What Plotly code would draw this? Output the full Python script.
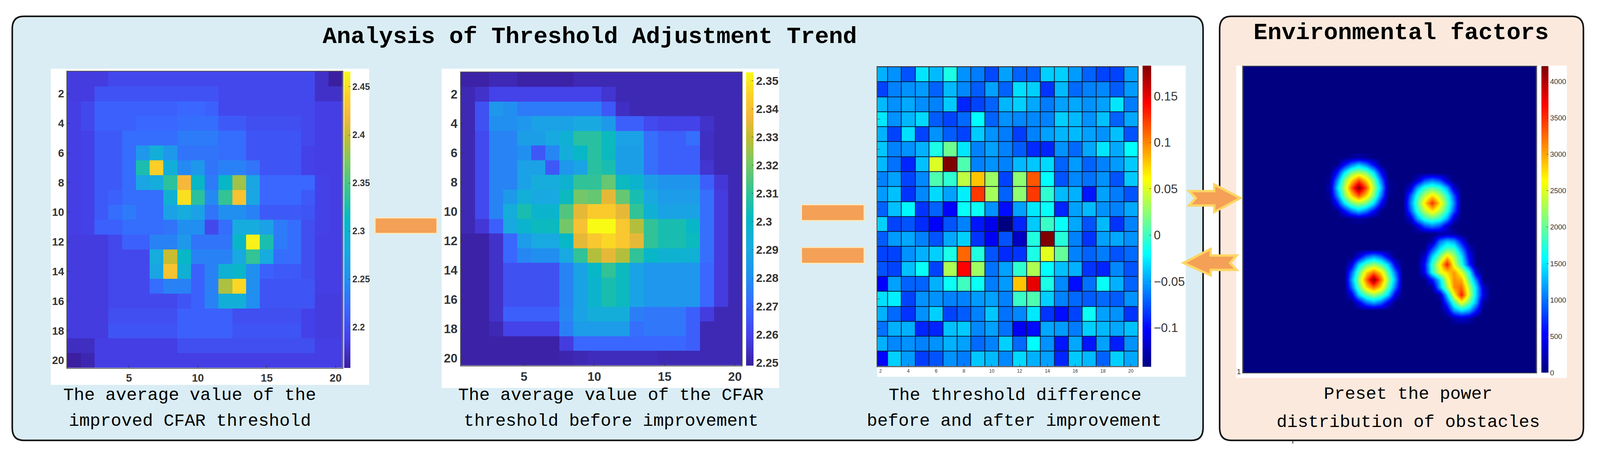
import plotly.graph_objects as go

W = 4438
H = 1179
TEXT_SCALE = 0.923

# improved CFAR threshold
improved = [
    [2.185,2.185,2.185,2.195,2.195,2.195,2.195,2.195,2.195,2.195,2.195,2.195,2.195,2.195,2.195,2.195,2.195,2.195,2.175,2.158],
    [2.185,2.185,2.203,2.203,2.203,2.203,2.203,2.203,2.203,2.203,2.203,2.195,2.195,2.195,2.195,2.195,2.195,2.195,2.175,2.175],
    [2.187,2.195,2.215,2.215,2.215,2.215,2.215,2.215,2.22,2.22,2.215,2.195,2.195,2.195,2.195,2.195,2.195,2.195,2.187,2.187],
    [2.187,2.195,2.215,2.215,2.215,2.22,2.22,2.22,2.225,2.225,2.225,2.21,2.21,2.2,2.2,2.2,2.2,2.195,2.187,2.187],
    [2.187,2.19,2.21,2.21,2.225,2.225,2.225,2.225,2.235,2.235,2.235,2.225,2.225,2.205,2.205,2.205,2.205,2.195,2.187,2.187],
    [2.187,2.19,2.21,2.21,2.225,2.26,2.29,2.26,2.23,2.23,2.23,2.225,2.225,2.205,2.205,2.205,2.205,2.19,2.187,2.187],
    [2.187,2.19,2.21,2.21,2.225,2.325,2.44,2.29,2.245,2.26,2.23,2.24,2.24,2.23,2.205,2.205,2.205,2.19,2.187,2.187],
    [2.187,2.19,2.21,2.21,2.225,2.275,2.285,2.335,2.42,2.31,2.235,2.31,2.385,2.275,2.22,2.22,2.22,2.22,2.19,2.187],
    [2.187,2.19,2.21,2.215,2.225,2.225,2.225,2.295,2.45,2.335,2.245,2.34,2.43,2.275,2.22,2.22,2.22,2.21,2.19,2.187],
    [2.187,2.19,2.21,2.225,2.235,2.225,2.225,2.27,2.285,2.27,2.23,2.25,2.25,2.24,2.21,2.21,2.21,2.205,2.19,2.187],
    [2.187,2.19,2.215,2.215,2.225,2.225,2.225,2.23,2.25,2.25,2.195,2.225,2.285,2.285,2.27,2.235,2.225,2.2,2.19,2.187],
    [2.185,2.185,2.185,2.195,2.215,2.215,2.24,2.24,2.26,2.23,2.23,2.23,2.31,2.46,2.325,2.235,2.225,2.2,2.187,2.187],
    [2.185,2.185,2.185,2.195,2.195,2.195,2.285,2.4,2.31,2.24,2.24,2.24,2.28,2.34,2.285,2.225,2.225,2.2,2.187,2.187],
    [2.185,2.185,2.185,2.195,2.195,2.195,2.275,2.43,2.295,2.215,2.24,2.295,2.305,2.25,2.215,2.21,2.21,2.2,2.187,2.187],
    [2.185,2.185,2.185,2.195,2.195,2.195,2.225,2.24,2.24,2.215,2.24,2.39,2.445,2.25,2.205,2.205,2.205,2.205,2.187,2.187],
    [2.185,2.185,2.185,2.195,2.195,2.195,2.195,2.195,2.205,2.215,2.24,2.29,2.29,2.25,2.205,2.205,2.205,2.205,2.185,2.185],
    [2.185,2.185,2.185,2.2,2.2,2.2,2.2,2.2,2.215,2.215,2.215,2.215,2.2,2.2,2.2,2.2,2.2,2.19,2.185,2.185],
    [2.185,2.185,2.185,2.205,2.205,2.205,2.205,2.205,2.215,2.215,2.215,2.215,2.205,2.205,2.205,2.205,2.205,2.19,2.185,2.185],
    [2.172,2.172,2.187,2.187,2.187,2.187,2.187,2.187,2.2,2.2,2.2,2.2,2.2,2.2,2.2,2.2,2.2,2.2,2.187,2.187],
    [2.158,2.165,2.187,2.187,2.187,2.187,2.187,2.187,2.187,2.187,2.187,2.187,2.187,2.187,2.187,2.187,2.187,2.187,2.187,2.187],
]

# CFAR threshold before the improvement
before = [
    [2.25,2.25,2.252,2.252,2.25,2.25,2.25,2.25,2.252,2.252,2.252,2.252,2.252,2.252,2.252,2.252,2.252,2.252,2.252,2.252],
    [2.252,2.255,2.26,2.26,2.26,2.26,2.26,2.26,2.26,2.26,2.256,2.252,2.252,2.252,2.252,2.252,2.252,2.252,2.252,2.252],
    [2.252,2.264,2.283,2.28,2.275,2.275,2.275,2.275,2.275,2.275,2.266,2.254,2.252,2.252,2.252,2.252,2.252,2.252,2.252,2.252],
    [2.252,2.264,2.28,2.28,2.283,2.287,2.287,2.287,2.29,2.29,2.284,2.268,2.268,2.262,2.26,2.26,2.26,2.255,2.252,2.252],
    [2.252,2.262,2.277,2.277,2.286,2.286,2.29,2.295,2.308,2.308,2.302,2.287,2.287,2.272,2.268,2.268,2.272,2.254,2.252,2.252],
    [2.252,2.262,2.277,2.277,2.28,2.266,2.278,2.293,2.3,2.308,2.302,2.286,2.286,2.272,2.268,2.268,2.268,2.254,2.252,2.252],
    [2.252,2.262,2.277,2.277,2.287,2.287,2.266,2.283,2.288,2.308,2.305,2.286,2.286,2.272,2.268,2.268,2.268,2.256,2.252,2.252],
    [2.252,2.262,2.277,2.277,2.287,2.292,2.292,2.296,2.31,2.31,2.318,2.302,2.298,2.286,2.282,2.282,2.282,2.268,2.257,2.252],
    [2.252,2.262,2.277,2.284,2.294,2.29,2.29,2.302,2.32,2.318,2.335,2.318,2.305,2.29,2.285,2.285,2.285,2.272,2.258,2.252],
    [2.252,2.262,2.277,2.293,2.305,2.298,2.298,2.315,2.335,2.343,2.343,2.335,2.31,2.295,2.288,2.288,2.288,2.272,2.258,2.252],
    [2.252,2.257,2.268,2.29,2.298,2.302,2.302,2.32,2.34,2.353,2.353,2.342,2.328,2.31,2.305,2.305,2.3,2.272,2.258,2.252],
    [2.25,2.25,2.255,2.27,2.285,2.29,2.29,2.3,2.335,2.342,2.346,2.342,2.335,2.31,2.305,2.305,2.302,2.272,2.258,2.252],
    [2.25,2.25,2.255,2.27,2.278,2.28,2.28,2.29,2.31,2.328,2.335,2.328,2.31,2.3,2.296,2.296,2.295,2.272,2.258,2.252],
    [2.25,2.25,2.255,2.264,2.264,2.264,2.264,2.277,2.288,2.3,2.31,2.302,2.288,2.283,2.283,2.283,2.283,2.27,2.258,2.252],
    [2.25,2.25,2.255,2.264,2.264,2.264,2.264,2.277,2.288,2.298,2.305,2.302,2.288,2.283,2.283,2.283,2.283,2.27,2.258,2.252],
    [2.25,2.25,2.255,2.264,2.264,2.264,2.264,2.277,2.288,2.298,2.305,2.302,2.288,2.283,2.283,2.283,2.283,2.27,2.258,2.252],
    [2.25,2.25,2.255,2.268,2.268,2.268,2.268,2.278,2.288,2.293,2.293,2.293,2.276,2.274,2.274,2.274,2.268,2.258,2.252,2.252],
    [2.25,2.25,2.252,2.26,2.26,2.26,2.26,2.276,2.285,2.285,2.285,2.285,2.272,2.274,2.274,2.274,2.268,2.252,2.252,2.252],
    [2.25,2.25,2.25,2.25,2.25,2.25,2.25,2.258,2.27,2.27,2.27,2.27,2.27,2.27,2.27,2.27,2.268,2.252,2.252,2.252],
    [2.25,2.25,2.25,2.25,2.25,2.25,2.25,2.251,2.252,2.253,2.253,2.253,2.253,2.253,2.252,2.252,2.252,2.252,2.252,2.252],
]

# threshold difference, 19 columns by 20 rows
difference = [
    [-.045,-.055,-.075,-.028,-.042,-.012,-.055,-.062,-.078,-.05,-.07,-.07,-.035,-.035,-.052,-.07,-.08,-.08,-.05],
    [-.08,-.06,-.055,-.052,-.07,-.042,-.058,-.072,-.05,-.07,-.03,-.035,-.085,-.042,-.068,-.06,-.058,-.072,-.052],
    [-.042,-.055,-.048,-.056,-.06,-.037,-.09,-.08,-.07,-.043,-.035,-.048,-.062,-.05,-.048,-.055,-.05,-.028,-.062],
    [-.027,-.055,-.043,-.032,-.072,-.08,-.068,-.02,-.07,-.055,-.058,-.058,-.06,-.035,-.042,-.055,-.04,-.07,-.048],
    [-.045,-.08,-.03,-.08,-.055,-.072,-.08,-.037,-.055,-.062,-.082,-.06,-.05,-.043,-.042,-.05,-.055,-.04,-.075],
    [-.038,-.06,-.055,-.045,-.012,.015,-.028,-.06,-.05,-.06,-.072,-.088,-.09,-.055,-.068,-.048,-.028,-.047,-.02],
    [-.042,-.065,-.09,-.04,.05,.183,.005,-.06,-.055,-.06,-.042,-.038,-.032,-.07,-.052,-.07,-.06,-.052,-.037],
    [-.06,-.05,-.08,-.058,.005,-.005,.04,.08,.03,-.08,.025,.115,-.02,-.075,-.058,-.065,-.055,-.075,-.037],
    [-.052,-.04,-.085,-.058,-.032,-.05,-.025,.125,.032,-.07,.025,.125,-.005,-.042,-.045,-.095,-.05,-.062,-.075],
    [-.07,-.04,-.022,-.085,-.07,-.1,-.018,-.017,-.055,-.098,-.05,-.027,-.018,-.09,-.05,-.042,-.055,-.06,-.048],
    [-.035,-.08,-.075,-.088,-.102,-.075,-.06,-.095,-.108,-.142,-.09,-.037,-.002,-.018,-.048,-.075,-.042,-.085,-.06],
    [-.072,-.052,-.048,-.06,-.075,-.048,-.035,-.085,-.105,-.075,-.12,-.01,.183,-.008,-.06,-.085,-.05,-.048,-.055],
    [-.08,-.08,-.055,-.045,-.035,-.012,.11,-.01,-.075,-.088,-.085,-.012,.052,.012,-.06,-.07,-.062,-.075,-.068],
    [-.075,-.08,-.04,-.018,-.08,.035,.142,.03,-.065,-.05,-.005,.035,-.02,-.04,-.045,-.085,-.09,-.058,-.075],
    [-.102,-.05,-.07,-.07,-.045,-.017,0,-.017,-.062,-.052,.08,.15,-.012,-.058,-.098,-.065,-.018,-.045,-.07],
    [-.03,-.025,-.08,-.055,-.055,-.06,-.06,-.052,-.05,-.06,-.002,.005,-.035,-.06,-.068,-.072,-.068,-.072,-.055],
    [-.045,-.068,-.085,-.055,-.035,-.08,-.072,-.06,-.038,-.065,-.058,-.027,-.085,-.098,-.08,-.017,-.05,-.055,-.085],
    [-.065,-.045,-.045,-.09,-.09,-.04,-.037,-.058,-.05,-.065,-.105,-.098,-.048,-.052,-.062,-.035,-.042,-.048,-.04],
    [-.045,-.058,-.055,-.06,-.055,-.045,-.05,-.068,-.06,-.035,-.068,-.02,-.055,-.095,-.048,-.095,-.05,-.092,-.055],
    [-.1,-.035,-.052,-.082,-.075,-.055,-.062,-.038,-.042,-.058,-.032,-.045,-.05,-.09,-.037,-.042,-.07,-.035,-.048],
]
difference_x = [2,3,4,5,6,7,8,9,10,11,12,13,14,15,16,17,18,19,20]
difference_y = [1,2,3,4,5,6,7,8,9,10,11,12,13,14,15,16,17,18,19,20]

# obstacle power, only the part of the map around the five obstacles
power_x = [12,13,14,15,16,17,18,19,20,21,22,23,24,25,26,27,28,29,30,31,32,33,34]
power_y = [29,28,27,26,25,24,23,22,21,20,19,18,17,16,15,14,13,12,11,10,9,8,7]
power = [
    [0,0,0,70,130,70,0,0,0,0,0,0,0,0,0,0,0,0,0,0,0,0,0],
    [0,30,550,1050,1350,1050,550,30,0,0,0,0,0,0,0,0,0,0,0,0,0,0,0],
    [0,550,1500,2100,2300,2100,1500,550,0,0,0,0,0,0,0,0,0,0,0,0,0,0,0],
    [70,1050,2100,2800,3350,2800,2100,1050,70,0,0,0,300,850,1050,850,300,0,0,0,0,0,0],
    [130,1350,2300,3350,4200,3350,2300,1350,130,0,0,300,1200,1750,1950,1750,1200,300,0,0,0,0,0],
    [70,1050,2100,2800,3350,2800,2100,1050,70,0,0,850,1750,2350,2750,2350,1750,850,0,0,0,0,0],
    [0,550,1500,2100,2300,2100,1500,550,0,0,0,1050,1950,2750,3500,2750,1950,1050,0,0,0,0,0],
    [0,30,550,1050,1350,1050,550,30,0,0,0,850,1750,2350,2750,2350,1750,850,0,0,0,0,0],
    [0,0,0,70,130,70,0,0,0,0,0,300,1200,1750,1950,1750,1200,300,0,0,0,0,0],
    [0,0,0,0,0,0,0,0,0,0,0,0,300,850,1050,850,300,0,0,0,0,0,0],
    [0,0,0,0,0,0,0,0,0,0,0,0,0,0,0,100,200,150,0,0,0,0,0],
    [0,0,0,0,0,0,0,0,0,0,0,0,0,0,150,1000,1350,1200,550,0,0,0,0],
    [0,0,0,0,0,0,0,0,0,0,0,0,0,50,800,1500,1950,1850,1100,300,0,0,0],
    [0,0,0,0,400,950,1200,950,400,0,0,0,0,350,1400,2100,2800,2300,1500,500,0,0,0],
    [0,0,0,400,1400,1950,2200,1950,1400,400,0,0,0,600,1800,2600,3600,2500,1750,700,0,0,0],
    [0,0,0,950,1950,2750,3200,2750,1950,950,0,0,0,500,1700,2500,2800,3050,2500,1700,300,0,0],
    [0,0,0,1200,2200,3200,4200,3200,2200,1200,0,0,0,50,600,1400,2500,3100,2950,2000,1000,0,0],
    [0,0,0,950,1950,2750,3200,2750,1950,950,0,0,0,0,100,1200,2200,3100,3250,2350,1400,300,0],
    [0,0,0,400,1400,1950,2200,1950,1400,400,0,0,0,0,0,150,1400,2600,3600,2450,1400,400,0],
    [0,0,0,0,400,950,1200,950,400,0,0,0,0,0,0,0,800,1850,2550,2000,1200,100,0],
    [0,0,0,0,0,0,0,0,0,0,0,0,0,0,0,0,300,1150,1450,1250,600,0,0],
    [0,0,0,0,0,0,0,0,0,0,0,0,0,0,0,0,0,200,350,250,0,0,0],
    [0,0,0,0,0,0,0,0,0,0,0,0,0,0,0,0,0,0,0,0,0,0,0],
]

improved_ticks = [2.2, 2.25, 2.3, 2.35, 2.4, 2.45]
before_ticks = [2.25, 2.26, 2.27, 2.28, 2.29, 2.3, 2.31, 2.32, 2.33, 2.34, 2.35]
difference_ticks = [-0.1, -0.05, 0, 0.05, 0.1, 0.15]
power_ticks = [0, 500, 1000, 1500, 2000, 2500, 3000, 3500, 4000]

parula = [
    [0, "#3b1fa0"], [0.1, "#4540e8"], [0.2, "#3a66ff"], [0.3, "#2090f0"],
    [0.4, "#18aae0"], [0.5, "#06b8c4"], [0.6, "#38c490"], [0.7, "#80c860"],
    [0.78, "#c4bc30"], [0.85, "#f5b83a"], [0.92, "#fbd028"], [1, "#f9fb15"],
]
jet = [
    [0, "#000080"], [0.125, "#0000ff"], [0.375, "#00ffff"],
    [0.625, "#ffff00"], [0.875, "#ff0000"], [1, "#800000"],
]

MONO = "Liberation Mono"
LABEL = "Liberation Sans"


def px(x):
    return x / W


def py(y):
    return 1 - y / H


def box(x0, y0, x1, y1, fill, line=None, width=0, layer="below"):
    return dict(type="rect", xref="paper", yref="paper", x0=px(x0), x1=px(x1), y0=py(y0), y1=py(y1),
                fillcolor=fill, line=dict(color=line or fill, width=width), layer=layer)


def rounded(x0, y0, x1, y1, r, fill):
    p = (f"M {px(x0 + r)} {py(y0)} L {px(x1 - r)} {py(y0)} Q {px(x1)} {py(y0)} {px(x1)} {py(y0 + r)} "
         f"L {px(x1)} {py(y1 - r)} Q {px(x1)} {py(y1)} {px(x1 - r)} {py(y1)} "
         f"L {px(x0 + r)} {py(y1)} Q {px(x0)} {py(y1)} {px(x0)} {py(y1 - r)} "
         f"L {px(x0)} {py(y0 + r)} Q {px(x0)} {py(y0)} {px(x0 + r)} {py(y0)} Z")
    return dict(type="path", xref="paper", yref="paper", path=p, fillcolor=fill,
                line=dict(color="#111111", width=4), layer="below")


def arrow(points):
    p = "M " + " L ".join(f"{px(x)} {py(y)}" for x, y in points) + " Z"
    return dict(type="path", xref="paper", yref="paper", path=p, fillcolor="#f4a056",
                line=dict(color="#fdd663", width=6), layer="above")


def text(s, x, y, size, bold=False):
    return dict(text=s, xref="paper", yref="paper", x=px(x), y=py(y), xanchor="center", yanchor="middle",
                showarrow=False, font=dict(family=MONO, size=size * TEXT_SCALE, color="#000000",
                                           weight="bold" if bold else "normal"))


def colorbar(x0, x1, y0, y1, ticks, size, bold=False):
    return dict(x=px(x0), xanchor="left", thicknessmode="fraction", thickness=(x1 - x0) / W,
                y=py(y1), yanchor="bottom", len=(y1 - y0) / H,
                xpad=0, ypad=0, outlinewidth=0, borderwidth=0, tickmode="array", tickvals=ticks,
                ticks="inside", ticklen=5, tickcolor="#444444", ticklabelposition="outside",
                tickfont=dict(family=LABEL, size=size * TEXT_SCALE, color="#333333", weight="bold" if bold else "normal"))


fig = go.Figure()

fig.add_trace(go.Heatmap(z=improved, x=list(range(1, 21)), y=list(range(1, 21)), colorscale=parula,
                         zmin=2.158, zmax=2.466, xaxis="x", yaxis="y",
                         colorbar=colorbar(955, 972, 184, 947, improved_ticks, 25, True)))
fig.add_trace(go.Heatmap(z=before, x=list(range(1, 21)), y=list(range(1, 21)), colorscale=parula,
                         zmin=2.249, zmax=2.353, xaxis="x2", yaxis="y2",
                         colorbar=colorbar(2069, 2090, 186, 941, before_ticks, 32, True)))
fig.add_trace(go.Heatmap(z=difference, x=difference_x, y=difference_y, colorscale=jet, xgap=2, ygap=2,
                         zmin=-0.142, zmax=0.183, xaxis="x3", yaxis="y3",
                         colorbar=colorbar(3169, 3193, 169, 944, difference_ticks, 34)))
fig.add_trace(go.Heatmap(z=power, x=power_x, y=power_y, colorscale=jet, zsmooth="best",
                         zmin=0, zmax=4209, xaxis="x4", yaxis="y4",
                         colorbar=colorbar(4275, 4295, 171, 960, power_ticks, 20)))


def axis(x0, x1, rng, size, ticks=None, labels=True, bold=True):
    return dict(domain=[px(x0), px(x1)], range=rng, tickmode="array", tickvals=ticks or [], ticks="inside",
                ticklen=7, tickcolor="#333333", showgrid=False, zeroline=False, showline=True, mirror=True,
                linecolor="#555555", linewidth=2, showticklabels=labels,
                tickfont=dict(family=LABEL, size=size * TEXT_SCALE, color="#333333", weight="bold" if bold else "normal"))


def yaxis_(y0, y1, rng, size, ticks=None, labels=True, anchor="x", bold=True):
    a = axis(0, 1, rng, size, ticks, labels, bold)
    a["domain"] = [py(y1), py(y0)]
    a["anchor"] = anchor
    return a


x_ticks = [5, 10, 15, 20]
y_ticks = [2, 4, 6, 8, 10, 12, 14, 16, 18, 20]

fig.update_layout(
    margin=dict(l=0, r=0, t=0, b=0, pad=0),
    paper_bgcolor="#ffffff", plot_bgcolor="rgba(0,0,0,0)",
    showlegend=False,
    xaxis=dict(axis(186, 950, [0.5, 20.5], 30, x_ticks), anchor="y"),
    yaxis=yaxis_(184, 947, [20.5, 0.5], 30, y_ticks, anchor="x"),
    xaxis2=dict(axis(1278, 2058, [0.5, 20.5], 34, x_ticks), anchor="y2"),
    yaxis2=yaxis_(186, 941, [20.5, 0.5], 34, y_ticks, anchor="x2"),
    xaxis3=dict(axis(2433, 3156, [1.76, 20.5], 13, y_ticks, bold=False), anchor="y3"),
    yaxis3=yaxis_(172, 943, [20.5, 0.5], 13, y_ticks, False, anchor="x3"),
    xaxis4=dict(axis(3448, 4261, [0.2, 40.2], 20, labels=False), anchor="y4"),
    yaxis4=yaxis_(171, 960, [0.85, 40.85], 20, [1], True, anchor="x4", bold=False),
)

fig.update_layout(
    shapes=[
        rounded(34, 42, 3337, 1134, 32, "#daedf4"),
        rounded(3383, 42, 4392, 1134, 32, "#fce9dd"),
        box(141, 177, 1024, 991, "#ffffff"),
        box(1225, 177, 2161, 999, "#ffffff"),
        box(2433, 169, 3289, 970, "#ffffff"),
        box(3429, 169, 4346, 973, "#ffffff"),
        box(2433, 172, 3156, 943, "#0c1a3c"),
        box(3448, 171, 4261, 960, "#000080"),
        box(1040, 561, 1212, 601, "#f4a056", "#fde8b8", 3, "above"),
        box(2223, 527, 2397, 568, "#f4a056", "#fde8b8", 3, "above"),
        box(2223, 637, 2397, 678, "#f4a056", "#fde8b8", 3, "above"),
        arrow([(3298, 492), (3368, 492), (3368, 475), (3440, 510), (3368, 546), (3368, 529), (3298, 529), (3317, 510)]),
        arrow([(3430, 658), (3358, 658), (3358, 641), (3283, 677), (3358, 709), (3358, 695), (3430, 695), (3412, 677)]),
        dict(type="line", xref="paper", yref="paper", x0=px(3586), x1=px(3586), y0=py(1134), y1=py(1142),
             line=dict(color="#222222", width=2), layer="below"),
    ],
    annotations=[
        text("Analysis of Threshold Adjustment Trend", 1636, 95, 65, True),
        text("Environmental factors", 3886, 85, 65, True),
        text("The average value of the", 526, 1018, 48.7),
        text("improved CFAR threshold", 527, 1084, 48.7),
        text("The average value of the CFAR", 1695, 1018, 48.7),
        text("threshold before improvement", 1695, 1084, 48.7),
        text("The threshold difference", 2815, 1018, 48.7),
        text("before and after improvement", 2813, 1084, 48.7),
        text("Preset the power", 3905, 1015, 48.7),
        text("distribution of obstacles", 3906, 1087, 48.7),
    ],
)

fig.write_html("out.html", config={"displayModeBar": False},
               post_script="document.body.style.margin='0';Plotly.Plots.resize('{plot_id}');")
